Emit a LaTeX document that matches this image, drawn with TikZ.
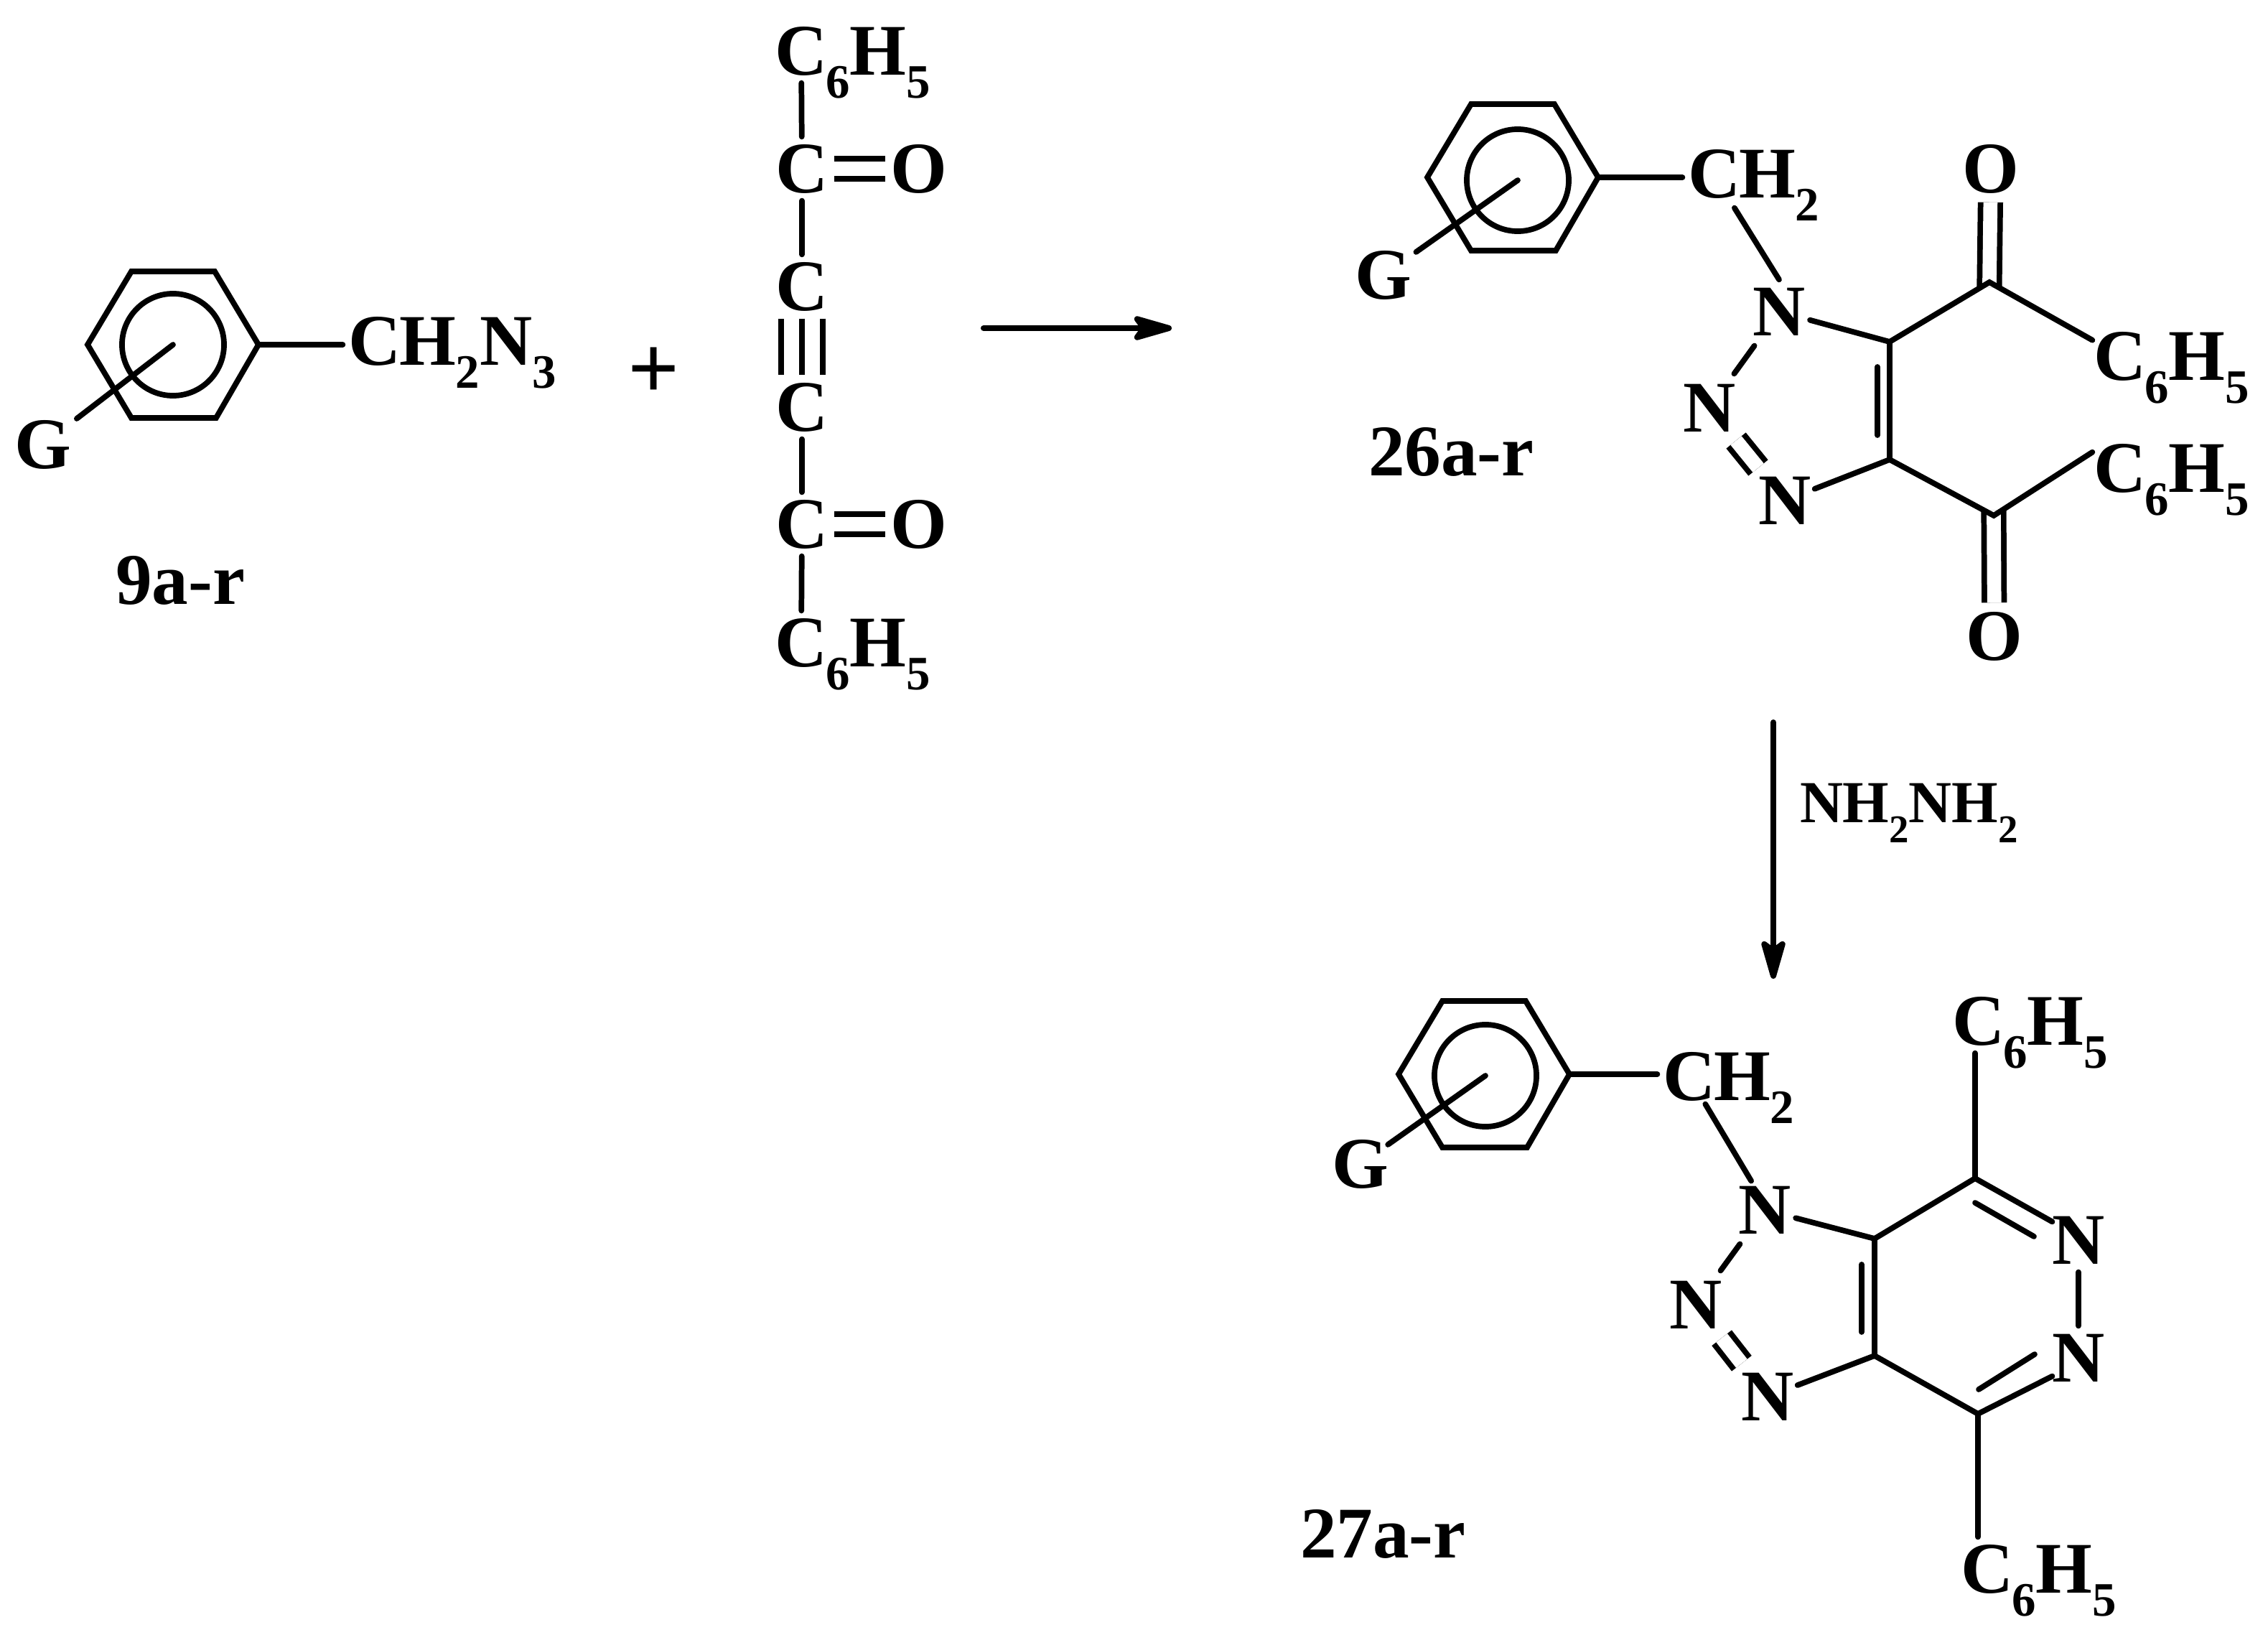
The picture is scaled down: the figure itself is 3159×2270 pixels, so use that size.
\documentclass[tikz,border=0pt]{standalone}
\usepackage{fontspec}
\setmainfont{Liberation Serif}
\usepackage{tikz}
\usetikzlibrary{positioning,arrows.meta}

\newcommand{\lowdigit}[1]{\raisebox{-9pt}{\fontsize{19}{19}\selectfont #1}}
\newcommand{\smalldigit}[1]{\raisebox{-8pt}{\fontsize{15.6}{15.6}\selectfont #1}}
\newcommand{\phenyl}[3]{%
  \begin{scope}[shift={(#2,#3)}]
    \draw[bond] (-58,-102) -- (58,-102) -- (119,0) -- (60,102) -- (-58,102) -- (-119,0) -- cycle;
    \coordinate (#1) at (119,0);
  \end{scope}}

\tikzset{
  bond/.style = {line width=2.2pt, line cap=round, miter limit=4},
  twin/.style = {line width=2.2pt, double, double distance=5.6pt},
  triple/.style = {line width=2.2pt, double, double distance=14.4pt},
  shortbond/.style = {shorten >=4pt, shorten <=4pt},
  heavy/.style = {font=\fontsize{28.8}{28.8}\selectfont\bfseries},
  atom/.style = {heavy, circle, inner sep=0pt, outer sep=-1.4pt, text height=19pt, text depth=0pt},
  tail/.style = {heavy, inner sep=0pt, outer sep=0pt},
  ring/.style = {draw, circle, line width=2.2pt, inner sep=0pt, minimum size=40.4pt},
  reaction/.style = {line width=2.3pt, line cap=round, -{Stealth[length=19.5pt, width=11pt, inset=4pt, round]}}
}

\begin{document}
\begin{tikzpicture}[x=0.01cm, y=-0.01cm]
  \useasboundingbox (0,0) rectangle (3159,2270);

  % azide
  \phenyl{vA}{241}{480}
  \node[ring] (ringA) at (241,480) {};
  \node[atom] (gA) at (60,619) {G};
  \node[atom] (cA) at (522,475) {C};
  \node[tail, base right=-3pt of cA] (tailA) {H\lowdigit{2}N\lowdigit{3}};
  \node[tail, anchor=base west] (nameA) at (161,842) {9a-r};
  \draw[bond] (vA) -- (vA -| cA.west);
  \draw[bond, shorten >=3.5pt] (ringA.center) -- (gA);

  \node[tail, font=\fontsize{36}{36}\selectfont\bfseries] (plus) at (911,520) {+};

  % diketone
  \node[atom] (cB) at (1116,71) {C};
  \node[tail, base right=-3pt of cB] (tailB) {\lowdigit{6}H\lowdigit{5}};
  \node[atom] (cC) at (1117,235) {C};
  \node[atom] (oC) at (1280,235) {O};
  \node[atom] (cD) at (1117,399) {C};
  \node[atom] (cE) at (1117,567) {C};
  \node[atom] (cF) at (1117,730) {C};
  \node[atom] (oF) at (1280,730) {O};
  \node[atom] (cG) at (1116,895) {C};
  \node[tail, base right=-3pt of cG] (tailG) {\lowdigit{6}H\lowdigit{5}};
  \draw[bond] (cB) -- (cC);
  \draw[bond] (cC) -- (cD);
  \draw[bond] (cE) -- (cF);
  \draw[bond] (cF) -- (cG);
  \draw[twin, yshift=1.2pt] (cC) -- (oC);
  \draw[twin, yshift=1.2pt] (cF) -- (oF);
  \draw[triple] (cD) -- (cE);
  \draw[bond, line cap=butt] (cD) -- (cE);

  \coordinate (arrowAs) at (1370,457);
  \coordinate (arrowAe) at (1632,457);
  \draw[reaction] (arrowAs) -- (arrowAe);

  % triazole diketone
  \phenyl{vH}{2107}{247}
  \node[ring] (ringH) at (2114,251) {};
  \node[atom] (gH) at (1927,383) {G};
  \node[atom] (cH) at (2388,242) {C};
  \node[tail, base right=-3pt of cH] (tailH) {H\lowdigit{2}};
  \node[atom] (nP) at (2478,434) {N};
  \node[atom] (nQ) at (2381,568) {N};
  \node[atom] (nR) at (2486,697) {N};
  \coordinate (rU) at (2632,476);
  \coordinate (rL) at (2632,640);
  \coordinate (inU) at (2615,511);
  \coordinate (inL) at (2615,606);
  \coordinate (coU) at (2771,393);
  \coordinate (coL) at (2777,718);
  \node[atom] (oU) at (2773,235) {O};
  \node[atom] (oL) at (2778,886) {O};
  \node[atom] (cU) at (2953,496) {C};
  \node[tail, base right=-3pt of cU] (tailU) {\lowdigit{6}H\lowdigit{5}};
  \node[atom] (cL) at (2953,652) {C};
  \node[tail, base right=-3pt of cL] (tailL) {\lowdigit{6}H\lowdigit{5}};
  \node[tail, anchor=base west] (nameH) at (1906,663) {26a-r};
  \draw[twin, shorten >=-2pt] (oU) -- (coU);
  \draw[twin, shorten >=-2pt] (oL) -- (coL);
  \draw[bond] (vH) -- (vH -| cH.west);
  \draw[bond, shorten >=2.5pt] (ringH.center) -- (gH);
  \draw[bond, shorten <=3pt] (cH.-60) -- (nP.north);
  \draw[bond, shortbond] (nP) -- (nQ);
  \draw[twin, shortbond] (nQ) -- (nR);
  \draw[bond] (nP) -- (rU) -- (rL) -- (nR);
  \draw[bond] (inU) -- (inL);
  \draw[bond] (rU) -- (coU) -- (cU.150);
  \draw[bond] (rL) -- (coL) -- (cL.150);

  \coordinate (arrowBs) at (2470,1006);
  \coordinate (arrowBe) at (2470,1363);
  \draw[reaction] (arrowBs) -- (arrowBe);
  \node[tail, anchor=base west, font=\fontsize{23.6}{23.6}\selectfont\bfseries] (reagent) at (2507,1145) {NH\smalldigit{2}NH\smalldigit{2}};

  % fused product
  \phenyl{vJ}{2067}{1496}
  \node[ring] (ringJ) at (2069,1498) {};
  \node[atom] (gJ) at (1895,1621) {G};
  \node[atom] (cJ) at (2353,1499) {C};
  \node[tail, base right=-3pt of cJ] (tailJ) {H\lowdigit{2}};
  \node[atom] (nS) at (2458,1685) {N};
  \node[atom] (nT) at (2362,1817) {N};
  \node[atom] (nV) at (2462,1945) {N};
  \node[atom] (nW) at (2895,1727) {N};
  \node[atom] (nX) at (2895,1891) {N};
  \coordinate (rS) at (2611,1725);
  \coordinate (rT) at (2611,1888);
  \coordinate (inS) at (2593,1761);
  \coordinate (inT) at (2593,1855);
  \coordinate (rW) at (2751,1641);
  \coordinate (rX) at (2755,1969);
  \coordinate (inWa) at (2751,1675);
  \coordinate (inWb) at (2833,1722);
  \coordinate (inXa) at (2756,1935);
  \coordinate (inXb) at (2834,1886);
  \node[atom] (cW) at (2756,1422) {C};
  \node[tail, base right=-3pt of cW] (tailW) {\lowdigit{6}H\lowdigit{5}};
  \node[atom] (cX) at (2768,2185) {C};
  \node[tail, base right=-3pt of cX] (tailX) {\lowdigit{6}H\lowdigit{5}};
  \node[tail, anchor=base west] (nameJ) at (1811,2169) {27a-r};
  \draw[bond] (vJ) -- (vJ -| cJ.west);
  \draw[bond] (ringJ.center) -- (gJ);
  \draw[bond] (cJ.-60) -- (nS.115);
  \draw[bond, shortbond] (nS) -- (nT);
  \draw[twin, shortbond] (nT) -- (nV);
  \draw[bond] (nS) -- (rS) -- (rT) -- (nV);
  \draw[bond] (inS) -- (inT);
  \draw[bond] (rS) -- (rW) -- (nW.145);
  \draw[bond] (rT) -- (rX) -- (nX.215);
  \draw[bond] (inWa) -- (inWb);
  \draw[bond] (inXa) -- (inXb);
  \draw[bond] (nW) -- (nX);
  \draw[bond] (rW) -- (rW |- cW.south);
  \draw[bond] (rX) -- (rX |- cX.north);
\end{tikzpicture}
\end{document}
